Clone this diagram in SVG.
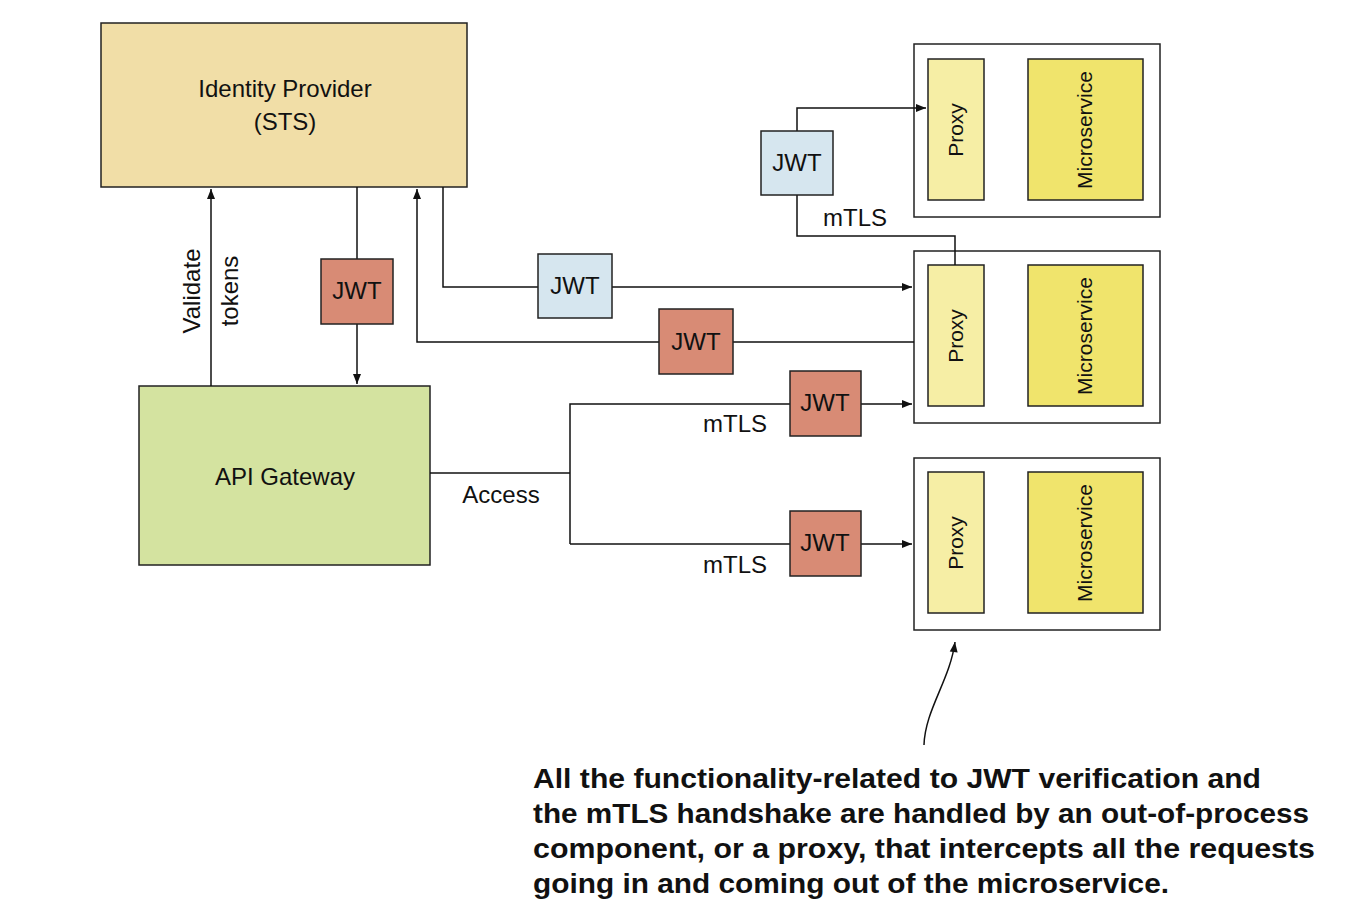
<svg xmlns="http://www.w3.org/2000/svg" width="1350" height="918" viewBox="0 0 1350 918">
<style>
text{font-family:"Liberation Sans",Arial,sans-serif;fill:#111}
.box{stroke:#222;stroke-width:1.5}
.c{stroke:#111;stroke-width:1.5;fill:none}
.lab{font-size:24px}
.jr{fill:#d88b75}
.jb{fill:#d6e6ef}
.px{fill:#f6eea5}
.ms{fill:#f0e46c}
.sm{font-size:21px}
.note{font-size:27px;font-weight:bold}
</style>
<defs>
<marker id="a" viewBox="0 0 10 10" refX="10" refY="5" markerWidth="14" markerHeight="10" markerUnits="userSpaceOnUse" orient="auto"><path d="M0,1 L10,5 L0,9 z" fill="#111"/></marker>
</defs>
<rect width="1350" height="918" fill="#fff"/>
<g id="idp"><rect class="box" x="101" y="23" width="366" height="164" fill="#f1dea7"/>
<text class="lab" x="285" y="97" text-anchor="middle">Identity Provider</text><text class="lab" x="285" y="130" text-anchor="middle">(STS)</text></g>
<g id="gateway"><rect class="box" x="139" y="386" width="291" height="179" fill="#d4e3a0"/>
<text class="lab" x="285" y="485" text-anchor="middle">API Gateway</text></g>
<g id="svc1"><rect class="box" x="914" y="44" width="246" height="173" fill="#fff"/>
<rect class="box px" x="928" y="59" width="56" height="141"/><rect class="box ms" x="1028" y="59" width="115" height="141"/>
<text class="sm" transform="translate(963,130) rotate(-90)" text-anchor="middle">Proxy</text>
<text class="sm" transform="translate(1092,130) rotate(-90)" text-anchor="middle">Microservice</text></g>
<g id="svc2"><rect class="box" x="914" y="251" width="246" height="172" fill="#fff"/>
<rect class="box px" x="928" y="265" width="56" height="141"/><rect class="box ms" x="1028" y="265" width="115" height="141"/>
<text class="sm" transform="translate(963,336) rotate(-90)" text-anchor="middle">Proxy</text>
<text class="sm" transform="translate(1092,336) rotate(-90)" text-anchor="middle">Microservice</text></g>
<g id="svc3"><rect class="box" x="914" y="458" width="246" height="172" fill="#fff"/>
<rect class="box px" x="928" y="472" width="56" height="141"/><rect class="box ms" x="1028" y="472" width="115" height="141"/>
<text class="sm" transform="translate(963,543) rotate(-90)" text-anchor="middle">Proxy</text>
<text class="sm" transform="translate(1092,543) rotate(-90)" text-anchor="middle">Microservice</text></g>
<g id="connectors">
<path class="c" d="M211,386 V189" marker-end="url(#a)"/>
<path class="c" d="M357,187 V384" marker-end="url(#a)"/>
<path class="c" d="M443,187 V287 H912" marker-end="url(#a)"/>
<path class="c" d="M914,342 H417 V189" marker-end="url(#a)"/>
<path class="c" d="M430,473 H570"/>
<path class="c" d="M570,544 V404 H912" marker-end="url(#a)"/>
<path class="c" d="M570,544 H912" marker-end="url(#a)"/>
<path class="c" d="M797,131 V108 H926" marker-end="url(#a)"/>
<path class="c" d="M797,195 V236 H955 V265"/>
<path class="c" d="M924,745 C925,710 950,680 955,642" marker-end="url(#a)"/>
<text class="lab" transform="translate(200,291) rotate(-90)" text-anchor="middle">Validate</text>
<text class="lab" transform="translate(238,291) rotate(-90)" text-anchor="middle">tokens</text>
<text class="lab" x="501" y="503" text-anchor="middle">Access</text>
<text class="lab" x="735" y="432" text-anchor="middle">mTLS</text>
<text class="lab" x="735" y="573" text-anchor="middle">mTLS</text>
<text class="lab" x="855" y="226" text-anchor="middle">mTLS</text>
</g>
<g id="jwt1"><rect class="box jr" x="321" y="259" width="72" height="65"/><text class="lab" x="357" y="299" text-anchor="middle">JWT</text></g>
<g id="jwt2"><rect class="box jb" x="538" y="254" width="74" height="64"/><text class="lab" x="575" y="294" text-anchor="middle">JWT</text></g>
<g id="jwt3"><rect class="box jr" x="659" y="309" width="74" height="65"/><text class="lab" x="696" y="350" text-anchor="middle">JWT</text></g>
<g id="jwt4"><rect class="box jr" x="790" y="371" width="71" height="65"/><text class="lab" x="825" y="411" text-anchor="middle">JWT</text></g>
<g id="jwt5"><rect class="box jr" x="790" y="511" width="71" height="65"/><text class="lab" x="825" y="551" text-anchor="middle">JWT</text></g>
<g id="jwt6"><rect class="box jb" x="761" y="131" width="72" height="64"/><text class="lab" x="797" y="171" text-anchor="middle">JWT</text></g>
<g id="note">
<text class="note" x="533" y="788" textLength="728" lengthAdjust="spacingAndGlyphs">All the functionality-related to JWT verification and</text>
<text class="note" x="533" y="823" textLength="776" lengthAdjust="spacingAndGlyphs">the mTLS handshake are handled by an out-of-process</text>
<text class="note" x="533" y="858" textLength="782" lengthAdjust="spacingAndGlyphs">component, or a proxy, that intercepts all the requests</text>
<text class="note" x="533" y="893" textLength="636" lengthAdjust="spacingAndGlyphs">going in and coming out of the microservice.</text>
</g>
</svg>
